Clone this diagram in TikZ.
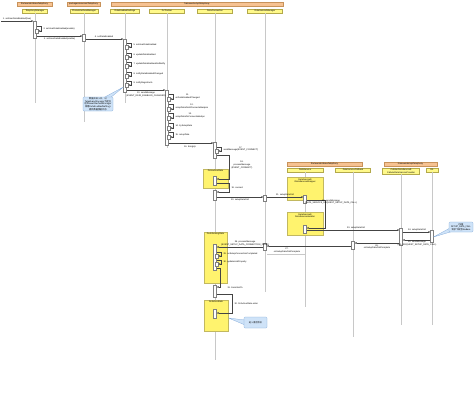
\documentclass[tikz,border=0pt]{standalone}
\usepackage{fontspec}
\setmainfont{Liberation Sans}
\newfontfamily\cjk{Noto Sans CJK SC}
\usetikzlibrary{arrows.meta}
\definecolor{hdrfill}{HTML}{F6C292}
\definecolor{hdrline}{HTML}{C8925A}
\definecolor{objfill}{HTML}{FFF98A}
\definecolor{objline}{HTML}{B3A94A}
\definecolor{frmfill}{HTML}{FFF36E}
\definecolor{frmline}{HTML}{C2B860}
\definecolor{notefill}{HTML}{CFE3F8}
\definecolor{noteline}{HTML}{7EA6D6}
\definecolor{lifecol}{HTML}{C8C8C8}
\definecolor{msgcol}{HTML}{444444}
\tikzset{
  tx/.style={font=\fontsize{2.2}{2.6}\selectfont, inner sep=0.3pt, align=center, text=black},
  hdr/.style={draw=hdrline, fill=hdrfill, line width=0.25pt, minimum height=4pt, inner sep=0pt, tx},
  obj/.style={draw=objline, fill=objfill, line width=0.25pt, minimum height=4pt, inner sep=0pt, tx},
  life/.style={draw=lifecol, line width=0.4pt},
  act/.style={draw=gray, fill=white, line width=0.25pt, minimum width=3pt, inner sep=0pt},
  msg/.style={draw=msgcol, line width=0.25pt, -{Latex[length=2pt,width=1.6pt]}},
  frm/.style={draw=frmline, fill=frmfill, line width=0.25pt, inner sep=0pt},
  note/.style={draw=noteline, fill=notefill, rounded corners=1pt, line width=0.25pt, tx,
    font=\fontsize{2.2}{2.6}\selectfont\cjk},
  tail/.style={draw=noteline, fill=notefill, line width=0.25pt, line join=round},
  lbl/.style={tx}
}
\newcommand\actbar[4]{\node[act, minimum height={#4-#3}] (#1) at (#2,{(#3+#4)/2}) {};}
\newcommand\selfcall[5]{%
  \node[act, minimum height=4pt] (#1) at (#2+1.5,#4) {};
  \draw[msg] (#2+1.5,#3) -- ++(5,0) |- (#1.east);
  \node[lbl, anchor=west] (#1l) at (#2+8,{(#3+#4)/2}) {#5};}
\begin{document}
\begin{tikzpicture}[x=1pt,y=-1pt]
\useasboundingbox (0,0) rectangle (474,410);
% package headers
\node[hdr, minimum width=35pt] (h1) at (34.5,4) {frameworks/base/telephony};
\node[hdr, minimum width=33pt] (h2) at (83.5,4) {packages/services/Telephony};
\node[hdr, minimum width=172pt] (h3) at (197,4) {frameworks/opt/telephony};
\node[hdr, minimum width=75pt] (h4) at (324.5,164) {frameworks/base/telephony};
\node[hdr, minimum width=53pt] (h5) at (410.5,164) {frameworks/opt/telephony};
% objects
\node[obj, minimum width=25pt] (tm) at (35,11) {TelephonyManager};
\node[obj, minimum width=28pt] (pim) at (84,11) {PhoneInterfaceManager};
\node[obj, minimum width=29pt] (des) at (125,11) {DataEnabledSettings};
\node[obj, minimum width=35pt] (dct) at (167,11) {DcTracker};
\node[obj, minimum width=35pt] (dc) at (215,11) {DataConnection};
\node[obj, minimum width=35pt] (dsm) at (265,11) {DataServiceManager};
\node[obj, minimum width=36pt] (ds) at (305,170) {DataService};
\node[obj, minimum width=35pt] (dsc) at (353,170) {DataServiceCallback};
\node[obj, minimum width=37pt, minimum height=6pt] (cds) at (401,171) {CellularDataService\$\\CellularDataServiceProvider};
\node[obj, minimum width=12pt] (ril) at (432,170) {RIL};
% lifelines
\coordinate (tmE) at (35,103);
\coordinate (pimE) at (84,122);
\coordinate (desE) at (125,103);
\coordinate (dctE) at (167,148);
\coordinate (dcE) at (215,360);
\coordinate (dsmE) at (265,292);
\coordinate (dsE) at (305,307);
\coordinate (dscE) at (353,337);
\coordinate (cdsE) at (401,325);
\coordinate (rilE) at (432,325);
\foreach \a/\b in {tm/tmE,pim/pimE,des/desE,dct/dctE,dc/dcE,dsm/dsmE,ds/dsE,dsc/dscE,cds/cdsE,ril/rilE}
  \draw[life] (\a.south) -- (\b);
\coordinate (xa) at (267,254);
\coordinate (xb) at (305,254);
\draw[life] (xa) -- (xb);
% frames
\node[frm, minimum width=25pt, minimum height=19pt] (fInact) at (215.5,178.5) {};
\node[lbl, anchor=north] (fInactT) at ([yshift=-0.5pt]fInact.north) {DcInactiveState};
\node[frm, minimum width=23pt, minimum height=51pt] (fActing) at (215.5,257.5) {};
\node[lbl, anchor=north] (fActingT) at ([yshift=-0.5pt]fActing.north) {DcActivatingState};
\node[frm, minimum width=24pt, minimum height=31pt] (fActive) at (216,315.5) {};
\node[lbl, anchor=north] (fActiveT) at ([yshift=-0.5pt]fActive.north) {DcActiveState};
\node[frm, minimum width=36pt, minimum height=23pt] (fDS1) at (305,188.5) {};
\node[lbl, anchor=north] (fDS1T) at ([yshift=-1pt]fDS1.north) {DataService\$\\IDataServiceWrapper};
\node[frm, minimum width=36pt, minimum height=23pt] (fDS2) at (305,223.5) {};
\node[lbl, anchor=north] (fDS2T) at ([yshift=-1pt]fDS2.north) {DataService\$\\DataServiceHandler};
% activations
\actbar{tmA}{35}{21}{38}
\actbar{pimA}{84}{34}{41}
\actbar{desA}{125}{39}{92}
\actbar{dctA}{167}{90}{145}
\actbar{dcA1}{215}{142}{158}
\actbar{dcA2}{215}{176}{185}
\actbar{dcA3}{215}{190}{200}
\actbar{dsmA1}{265}{195}{201}
\actbar{dsA1}{305}{195}{203}
\actbar{dsA2}{305}{225}{233}
\actbar{cdsA}{401}{228}{245}
\actbar{rilA}{432}{230}{242}
\actbar{dscA}{353}{241}{249}
\actbar{dsmA2}{265}{243}{250}
\actbar{dcA4}{215}{244}{270}
\actbar{dcA5}{215}{285}{297}
\actbar{dcA6}{215}{309}{318}
% messages
\coordinate (start) at (1,21);
\draw[msg] (start) -- (tmA.west |- 0,21);
\node[lbl, anchor=south] (l1) at (17,20.3) {1. setUserDataEnabled(true)};
\selfcall{s2}{35}{26}{31}{2. setUserDataEnabled(enable)}
\draw[msg] (tmA.east |- 0,36) -- (pimA.west |- 0,36);
\node[lbl, anchor=north] (l3) at (59.5,37) {3. setUserDataEnabled(enable)};
\draw[msg] (pimA.east |- 0,39) -- (desA.west |- 0,39);
\node[lbl, anchor=south] (l4) at (104,38.3) {4. setDataEnabled};
\selfcall{s5}{125}{43}{47}{5. setUserDataEnabled}
\selfcall{s6}{125}{53}{57}{6. updateDataEnabled}
\selfcall{s7}{125}{62}{66}{7. updateDataEnabledAndNotify}
\selfcall{s8}{125}{72}{76}{8. notifyDataEnabledChanged}
\selfcall{s9}{125}{81}{85}{9. notifyRegistrants}
\draw[msg] (desA.east |- 0,90) -- (dctA.west |- 0,90);
\node[lbl, anchor=north] (l10) at (146,91.5) {10. sendMessage\\(EVENT\_DATA\_ENABLED\_CHANGED)};
\selfcall{s11}{167}{94}{99}{11.\\onDataEnabledChanged}
\selfcall{s12}{167}{104}{109}{12.\\setupDataOnAllConnectableApns}
\selfcall{s13}{167}{113}{118}{13.\\setupDataOnConnectableApn}
\selfcall{s14}{167}{123}{128}{14. trySetupData}
\selfcall{s15}{167}{132}{137}{15. setupData}
\draw[msg] (dctA.east |- 0,143) -- (dcA1.west |- 0,143);
\node[lbl, anchor=north] (l16) at (190,145) {16. bringUp};
\selfcall{s17}{215}{147}{151}{17.\\sendMessage(EVENT\_CONNECT)}
\draw[msg] (dcA1.east |- 0,155) -- (229,155) |- (dcA2.east |- 0,179);
\node[lbl, anchor=west] (l18) at (231,165) {18.\\processMessage\\(EVENT\_CONNECT)};
\draw[msg] (dcA2.east |- 0,183) -- (229,183) |- (dcA3.east |- 0,192);
\node[lbl, anchor=west] (l19) at (231,188) {19. connect};
\draw[msg] (dcA3.east |- 0,197) -- (dsmA1.west |- 0,197);
\node[lbl, anchor=north] (l20) at (240,198.5) {20. setupDataCall};
\draw[msg] (dsmA1.east |- 0,197) -- (dsA1.west |- 0,197);
\node[lbl, anchor=south] (l21) at (285,196.3) {21. setupDataCall};
\draw[msg] (dsA1.east |- 0,200) -- (325,200) |- (dsA2.east |- 0,228);
\node[lbl, anchor=north] (l22) at (331,199) {22. sendMessage\\(DATA\_SERVICE\_REQUEST\_SETUP\_DATA\_CALL)};
\draw[msg] (dsA2.east |- 0,230) -- (cdsA.west |- 0,230);
\node[lbl, anchor=south] (l23) at (356,229.3) {23. setupDataCall};
\draw[msg] (cdsA.east |- 0,232) -- (rilA.west |- 0,232);
\node[lbl, anchor=south] (l24) at (417,231.3) {24. setupDataCall};
\draw[msg] (rilA.west |- 0,240) -- (cdsA.east |- 0,240);
\node[lbl, anchor=north] (l25) at (417,240.8) {25. sendMessage\\(RIL\_REQUEST\_SETUP\_DATA\_CALL)};
\draw[msg] (cdsA.west |- 0,243) -- (dscA.east |- 0,243);
\node[lbl, anchor=north] (l26) at (377,244.3) {26.\\onSetupDataCallComplete};
\draw[msg] (dscA.west |- 0,246) -- (dsmA2.east |- 0,246);
\node[lbl, anchor=north] (l27) at (287,247.5) {27.\\onSetupDataCallComplete};
\draw[msg] (dsmA2.west |- 0,247) -- (dcA4.east |- 0,247);
\node[lbl, anchor=south] (l28) at (245,246.3) {28. processMessage\\(EVENT\_SETUP\_DATA\_CONNECTION\_DONE)};
\selfcall{s29}{215}{252}{256}{29. onSetupConnectionCompleted}
\selfcall{s30}{215}{260}{264}{30. updateLinkProperty}
\draw[msg] (dcA4.east |- 0,268) -- (220,268) |- (dcA5.east |- 0,287);
\node[lbl, anchor=west] (l31) at (227,288) {31. transitionTo};
\draw[msg] (dcA5.east |- 0,294) -- (232,294) |- (dcA6.east |- 0,313);
\node[lbl, anchor=west] (l32) at (234,304) {32. DcActiveState.enter};
% notes
\coordinate (t1) at (123.5,87);
\filldraw[tail] (103,98) -- (t1) -- (110,98) -- cycle;
\node[note, minimum width=30pt, minimum height=14pt] (n1) at (98,104) {数据开关入口，以\\TelephonyManager为起点\\经PhoneInterfaceManager\\调用DataEnabledSettings\\更新数据使能状态};
\coordinate (t2) at (433.5,237);
\filldraw[tail] (450,228) -- (t2) -- (452,231.5) -- cycle;
\node[note, minimum width=24pt, minimum height=10pt] (n2) at (461,227) {PS域\\SETUP\_DATA\_CALL\\请求下发至Modem};
\coordinate (t3) at (228.5,318);
\filldraw[tail] (245,320) -- (t3) -- (245,325) -- cycle;
\node[note, minimum width=23pt, minimum height=11pt] (n3) at (255.5,322.5) {进入激活状态};
\end{tikzpicture}
\end{document}
